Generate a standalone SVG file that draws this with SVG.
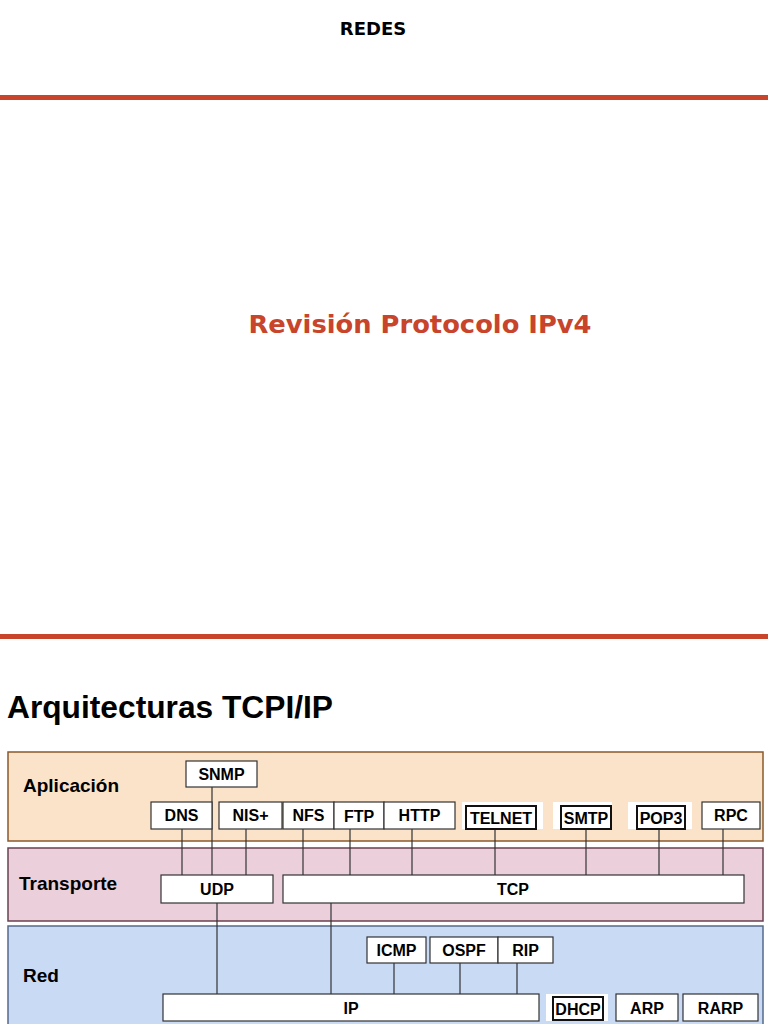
<svg xmlns="http://www.w3.org/2000/svg" width="768" height="1024" viewBox="0 0 768 1024">
<style>
.hdr{font-family:"DejaVu Sans",sans-serif;font-weight:bold}
.t{font-family:"Liberation Sans",Arial,sans-serif;font-weight:bold;fill:#000}
.lbl{font-size:19px}
.bt{font-size:16px;text-anchor:middle}
.box{fill:#fff;stroke:#333;stroke-width:1.2}
.boxb{fill:#fff;stroke:#111;stroke-width:2}
.bg{fill:#fff}
.c{stroke:#333;stroke-width:1.2;fill:none}
</style>
<rect width="768" height="1024" fill="#fff"/>
<text class="hdr" x="373" y="35" font-size="18" text-anchor="middle" fill="#000">REDES</text>
<rect x="0" y="95" width="768" height="5" fill="#c8442a"/>
<text class="hdr" x="420" y="333" font-size="25" text-anchor="middle" fill="#c8442a" textLength="343" lengthAdjust="spacingAndGlyphs">Revisión Protocolo IPv4</text>
<rect x="0" y="634" width="768" height="5" fill="#c8442a"/>
<text class="t" x="7" y="718" font-size="31" textLength="326" lengthAdjust="spacingAndGlyphs">Arquitecturas TCPI/IP</text>

<g id="layers">
<rect id="aplicacion" x="8" y="752" width="755" height="89" fill="#fbe3c9" stroke="#8a5a2a" stroke-width="1.5"/>
<rect id="transporte" x="8" y="848" width="755" height="73" fill="#ebd0dc" stroke="#6a4050" stroke-width="1.5"/>
<rect id="red" x="8" y="926" width="755" height="110" fill="#c9daf5" stroke="#556a8a" stroke-width="1.5"/>
<text class="t lbl" x="23" y="792">Aplicación</text>
<text class="t lbl" x="19" y="890">Transporte</text>
<text class="t lbl" x="23" y="982">Red</text>
</g>

<g id="connectors">
<line class="c" x1="182" y1="829" x2="182" y2="875"/>
<line class="c" x1="212" y1="787" x2="212" y2="875" stroke="#555"/>
<line class="c" x1="246" y1="829" x2="246" y2="875"/>
<line class="c" x1="303" y1="829" x2="303" y2="875"/>
<line class="c" x1="350" y1="829" x2="350" y2="875"/>
<line class="c" x1="412" y1="829" x2="412" y2="875"/>
<line class="c" x1="495" y1="829" x2="495" y2="875"/>
<line class="c" x1="586" y1="829" x2="586" y2="875"/>
<line class="c" x1="659" y1="829" x2="659" y2="875"/>
<line class="c" x1="723" y1="829" x2="723" y2="875"/>
<line class="c" x1="217" y1="903" x2="217" y2="994"/>
<line class="c" x1="331" y1="903" x2="331" y2="994"/>
<line class="c" x1="394" y1="963" x2="394" y2="994"/>
<line class="c" x1="460" y1="963" x2="460" y2="994"/>
<line class="c" x1="517" y1="963" x2="517" y2="994"/>
</g>

<g id="snmp"><rect class="box" x="186" y="761" width="71" height="26"/><text class="t bt" x="221.5" y="780">SNMP</text></g>
<g id="dns"><rect class="box" x="151" y="802" width="61" height="27"/><text class="t bt" x="181.5" y="821">DNS</text></g>
<g id="nis"><rect class="box" x="219" y="802" width="63" height="27"/><text class="t bt" x="250.5" y="821">NIS+</text></g>
<g id="nfs"><rect class="box" x="283" y="802" width="51" height="27"/><text class="t bt" x="308.5" y="821">NFS</text></g>
<g id="ftp"><rect class="box" x="334" y="802" width="50" height="27"/><text class="t bt" x="359" y="822">FTP</text></g>
<g id="http"><rect class="box" x="384" y="802" width="71" height="27"/><text class="t bt" x="419.5" y="821">HTTP</text></g>
<g id="telnet"><rect class="bg" x="462" y="802" width="81" height="27"/><rect class="boxb" x="466" y="806" width="70" height="23"/><text class="t bt" x="501" y="824">TELNET</text></g>
<g id="smtp"><rect class="bg" x="553" y="802" width="59" height="27"/><rect class="boxb" x="561" y="806" width="50" height="23"/><text class="t bt" x="586" y="824">SMTP</text></g>
<g id="pop3"><rect class="bg" x="628" y="802" width="64" height="27"/><rect class="boxb" x="637" y="806" width="48" height="23"/><text class="t bt" x="661" y="824">POP3</text></g>
<g id="rpc"><rect class="box" x="702" y="802" width="58" height="27"/><text class="t bt" x="731" y="821">RPC</text></g>

<g id="udp"><rect class="box" x="161" y="875" width="112" height="28"/><text class="t bt" x="217" y="895">UDP</text></g>
<g id="tcp"><rect class="box" x="283" y="875" width="461" height="28"/><text class="t bt" x="513" y="895">TCP</text></g>

<g id="icmp"><rect class="box" x="367" y="937" width="59" height="26"/><text class="t bt" x="396.5" y="956">ICMP</text></g>
<g id="ospf"><rect class="box" x="430" y="937" width="68" height="26"/><text class="t bt" x="464" y="956">OSPF</text></g>
<g id="rip"><rect class="box" x="498" y="937" width="55" height="26"/><text class="t bt" x="525.5" y="956">RIP</text></g>
<g id="ip"><rect class="box" x="163" y="994" width="376" height="27"/><text class="t bt" x="351" y="1014">IP</text></g>
<g id="dhcp"><rect class="bg" x="546" y="994" width="62" height="27"/><rect class="boxb" x="553" y="997" width="50" height="23"/><text class="t bt" x="578" y="1015">DHCP</text></g>
<g id="arp"><rect class="box" x="616" y="994" width="62" height="27"/><text class="t bt" x="647" y="1014">ARP</text></g>
<g id="rarp"><rect class="box" x="683" y="994" width="75" height="27"/><text class="t bt" x="720.5" y="1014">RARP</text></g>
</svg>
